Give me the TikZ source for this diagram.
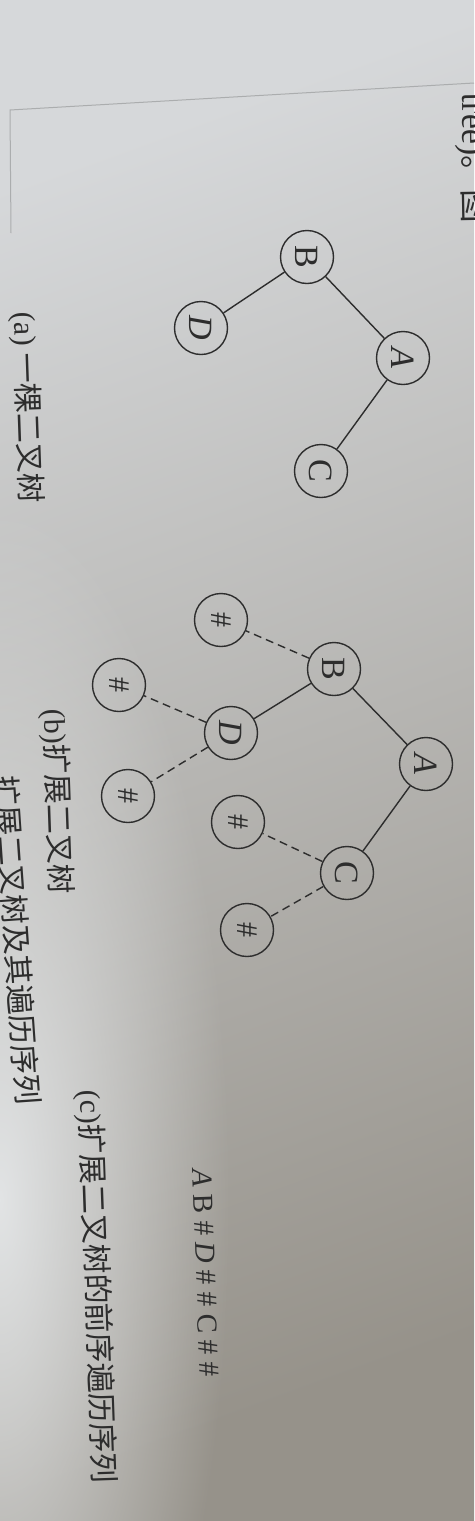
\documentclass[tikz,border=0pt]{standalone}
\usepackage{fontspec}
\usetikzlibrary{fadings}
\setmainfont{Liberation Serif}
\newfontfamily\cjk{Noto Sans CJK SC}
\definecolor{paperhi}{RGB}{214,216,218}
\definecolor{paperlo}{RGB}{150,146,138}
\definecolor{ink}{RGB}{45,45,45}
\tikzfading[name=softspot,inner color=transparent!0,outer color=transparent!100]

\begin{document}
\begin{tikzpicture}[x=1pt,y=-1pt,
  vtx/.style={circle,draw=ink,line width=1.4pt,minimum size=53pt,inner sep=0pt,
    rotate=-90,text=ink,font=\fontsize{34}{36}\selectfont},
  hash/.style={vtx,font=\fontsize{30}{32}\selectfont},
  link/.style={draw=ink,line width=1.4pt},
  nullink/.style={link,dash pattern=on 8pt off 5pt},
  capt/.style={rotate=-88,text=ink,font=\fontsize{30}{33}\selectfont}]

\useasboundingbox (0,0) rectangle (474,1521);
\clip (0,0) rectangle (474,1521);
\shade[top color=paperhi,middle color=paperhi!85!paperlo,bottom color=paperlo,shading angle=20]
  (0,0) rectangle (474,1521);
\fill[paperhi!70!white,path fading=softspot] (-230,500) rectangle (230,1900);
\draw[paperhi!80!black,line width=1pt] (11,233) -- (10,110) -- (474,83);

% body text cut at the page edge
\draw (462,90) node(BODY)[anchor=base west,rotate=-89,text=ink,font=\fontsize{34}{36}\selectfont]{tree)\cjk 。图};

% (a)
\draw (403,358) node(A)[vtx]{\textit{A}};
\draw (307,257) node(B)[vtx]{B};
\draw (321,471) node(C)[vtx]{C};
\draw (201,328) node(D)[vtx]{\textit{D}};

\draw[link] (A) -- (B);
\draw[link] (A) -- (C);
\draw[link] (B) -- (D);

\draw (27,408) node(CAPA)[capt]{(a) {\cjk 一棵二叉树}};

% (b)
\draw (426,764) node(XA)[vtx]{\textit{A}};
\draw (334,669) node(XB)[vtx]{B};
\draw (347,873) node(XC)[vtx]{C};
\draw (231,733) node(XD)[vtx]{\textit{D}};
\draw (221,620) node(HONE)[hash]{\#};
\draw (119,685) node(HTWO)[hash]{\#};
\draw (128,796) node(HTHREE)[hash]{\#};
\draw (238,822) node(HFOUR)[hash]{\#};
\draw (247,930) node(HFIVE)[hash]{\#};

\draw[link] (XA) -- (XB);
\draw[link] (XA) -- (XC);
\draw[link] (XB) -- (XD);
\draw[nullink] (XB) -- (HONE);
\draw[nullink] (XD) -- (HTWO);
\draw[nullink] (XD) -- (HTHREE);
\draw[nullink] (XC) -- (HFOUR);
\draw[nullink] (XC) -- (HFIVE);

\draw (57,802) node(CAPB)[capt]{(b){\cjk 扩展二叉树}};

% (c)
\draw (206,1273) node(SEQ)[capt,font=\fontsize{29}{32}\selectfont]{\textit{A} B \# \textit{D} \# \# C \# \#};
\draw (96,1287) node(CAPC)[capt]{(c){\cjk 扩展二叉树的前序遍历序列}};

% figure caption, cut at the page edge
\draw (17,940) node(FIG)[capt,rotate=2]{\cjk 扩展二叉树及其遍历序列};

\end{tikzpicture}
\end{document}
